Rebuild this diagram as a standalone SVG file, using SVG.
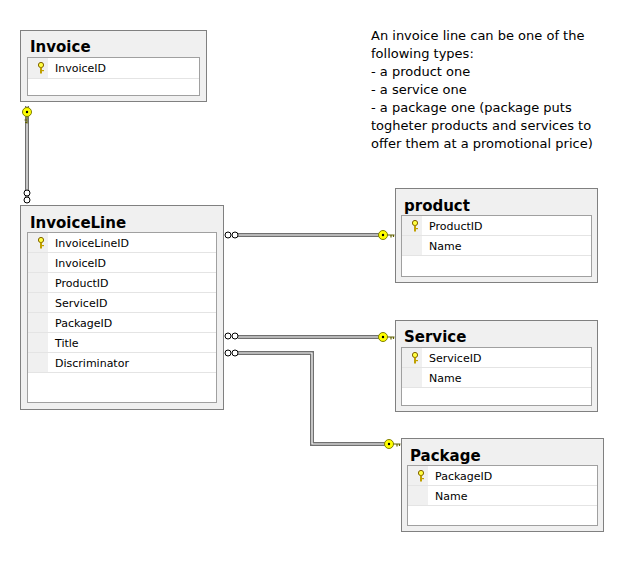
<svg xmlns="http://www.w3.org/2000/svg" width="632" height="577" viewBox="0 0 632 577">
<style>
.box{fill:#f0f0f0;stroke:#808080;stroke-width:1}
.grid{fill:#fff;stroke:#a0a0a0;stroke-width:1}
.sep{stroke:#e4e4e4;stroke-width:1}
.cell{fill:#f0f0f0}
.t{font-family:"DejaVu Sans",sans-serif;font-weight:bold;font-size:15px;fill:#000}
.f{font-family:"DejaVu Sans",sans-serif;font-size:11px;fill:#000}
.n{font-family:"DejaVu Sans",sans-serif;font-size:13px;fill:#000}
.lo{fill:none;stroke:#707070;stroke-width:4}
.li{fill:none;stroke:#ffffff;stroke-width:1.2}
.ring{fill:#fff;stroke:#000;stroke-width:1}
.key{fill:#ffff40;stroke:#806000;stroke-width:1}
</style>
<defs>
<g id="k"><circle cx="0" cy="-3" r="2.6" class="key"/><rect x="-1" y="-0.5" width="2" height="6" fill="#c0a000"/><rect x="1" y="2" width="2" height="1.2" fill="#c0a000"/></g>
<g id="hk"><circle cx="0" cy="0" r="4.5" fill="#ffff00" stroke="#808000"/><circle cx="0" cy="0" r="1.2" fill="#000"/><path d="M4.5 0h7M8 0v2.5M10.5 0v2" stroke="#606000" stroke-width="1.2" fill="none"/></g>
</defs>
<rect width="632" height="577" fill="#fff"/>
<g id="connectors">
<path class="lo" d="M27 106V197"/><path class="li" d="M27 106V197"/>
<path class="lo" d="M238 235H380"/><path class="li" d="M238 235H380"/>
<path class="lo" d="M238 337H380"/><path class="li" d="M238 337H380"/>
<path class="lo" d="M238 353H312V444H387"/><path class="li" d="M238 353H312V444H387"/>
<g transform="translate(27,112) rotate(90)"><use href="#hk"/></g>
<circle class="ring" cx="27" cy="193" r="3"/><circle class="ring" cx="27" cy="200" r="3"/>
<circle class="ring" cx="228" cy="235" r="3"/><circle class="ring" cx="235" cy="235" r="3"/>
<circle class="ring" cx="228" cy="336" r="3"/><circle class="ring" cx="235" cy="336" r="3"/>
<circle class="ring" cx="228" cy="353" r="3"/><circle class="ring" cx="235" cy="353" r="3"/>
<g transform="translate(383,235)"><use href="#hk"/></g>
<g transform="translate(383,337)"><use href="#hk"/></g>
<g transform="translate(389,444)"><use href="#hk"/></g>
</g>
<g id="Invoice">
<rect class="box" x="20.5" y="30.5" width="186" height="71"/>
<text class="t" x="30" y="52">Invoice</text>
<rect class="grid" x="27.5" y="57.5" width="172" height="38"/>
<rect class="cell" x="28" y="58" width="20" height="20"/>
<line class="sep" x1="28" y1="78.5" x2="199" y2="78.5"/>
<use href="#k" x="41" y="68"/>
<text class="f" x="55" y="72">InvoiceID</text>
</g>
<g id="InvoiceLine">
<rect class="box" x="20.5" y="205.5" width="203" height="204"/>
<text class="t" x="30" y="228">InvoiceLine</text>
<rect class="grid" x="27.5" y="232.5" width="189" height="170"/>
<g class="cell"><rect x="28" y="233" width="20" height="139"/></g>
<g class="sep"><line x1="28" y1="252.5" x2="216" y2="252.5"/><line x1="28" y1="272.5" x2="216" y2="272.5"/><line x1="28" y1="292.5" x2="216" y2="292.5"/><line x1="28" y1="312.5" x2="216" y2="312.5"/><line x1="28" y1="332.5" x2="216" y2="332.5"/><line x1="28" y1="352.5" x2="216" y2="352.5"/><line x1="28" y1="372.5" x2="216" y2="372.5"/></g>
<use href="#k" x="41" y="243"/>
<text class="f" x="55" y="247">InvoiceLineID</text>
<text class="f" x="55" y="267">InvoiceID</text>
<text class="f" x="55" y="287">ProductID</text>
<text class="f" x="55" y="307">ServiceID</text>
<text class="f" x="55" y="327">PackageID</text>
<text class="f" x="55" y="347">Title</text>
<text class="f" x="55" y="367">Discriminator</text>
</g>
<g id="product">
<rect class="box" x="395.5" y="188.5" width="202" height="94"/>
<text class="t" x="404" y="211">product</text>
<rect class="grid" x="401.5" y="215.5" width="190" height="61"/>
<rect class="cell" x="402" y="216" width="20" height="40"/>
<line class="sep" x1="402" y1="235.5" x2="591" y2="235.5"/><line class="sep" x1="402" y1="255.5" x2="591" y2="255.5"/>
<use href="#k" x="415" y="226"/>
<text class="f" x="429" y="230">ProductID</text>
<text class="f" x="429" y="250">Name</text>
</g>
<g id="Service">
<rect class="box" x="395.5" y="320.5" width="202" height="91"/>
<text class="t" x="404" y="342">Service</text>
<rect class="grid" x="401.5" y="347.5" width="190" height="58"/>
<rect class="cell" x="402" y="348" width="20" height="40"/>
<line class="sep" x1="402" y1="367.5" x2="591" y2="367.5"/><line class="sep" x1="402" y1="387.5" x2="591" y2="387.5"/>
<use href="#k" x="415" y="358"/>
<text class="f" x="429" y="362">ServiceID</text>
<text class="f" x="429" y="382">Name</text>
</g>
<g id="Package">
<rect class="box" x="401.5" y="438.5" width="202" height="93"/>
<text class="t" x="410" y="461">Package</text>
<rect class="grid" x="407.5" y="465.5" width="190" height="60"/>
<rect class="cell" x="408" y="466" width="20" height="40"/>
<line class="sep" x1="408" y1="485.5" x2="597" y2="485.5"/><line class="sep" x1="408" y1="505.5" x2="597" y2="505.5"/>
<use href="#k" x="421" y="476"/>
<text class="f" x="435" y="480">PackageID</text>
<text class="f" x="435" y="500">Name</text>
</g>
<g id="note">
<text class="n" x="371" y="40">An invoice line can be one of the</text>
<text class="n" x="371" y="58">following types:</text>
<text class="n" x="371" y="76">- a product one</text>
<text class="n" x="371" y="94">- a service one</text>
<text class="n" x="371" y="112">- a package one (package puts</text>
<text class="n" x="371" y="130">togheter products and services to</text>
<text class="n" x="371" y="148">offer them at a promotional price)</text>
</g>
</svg>
